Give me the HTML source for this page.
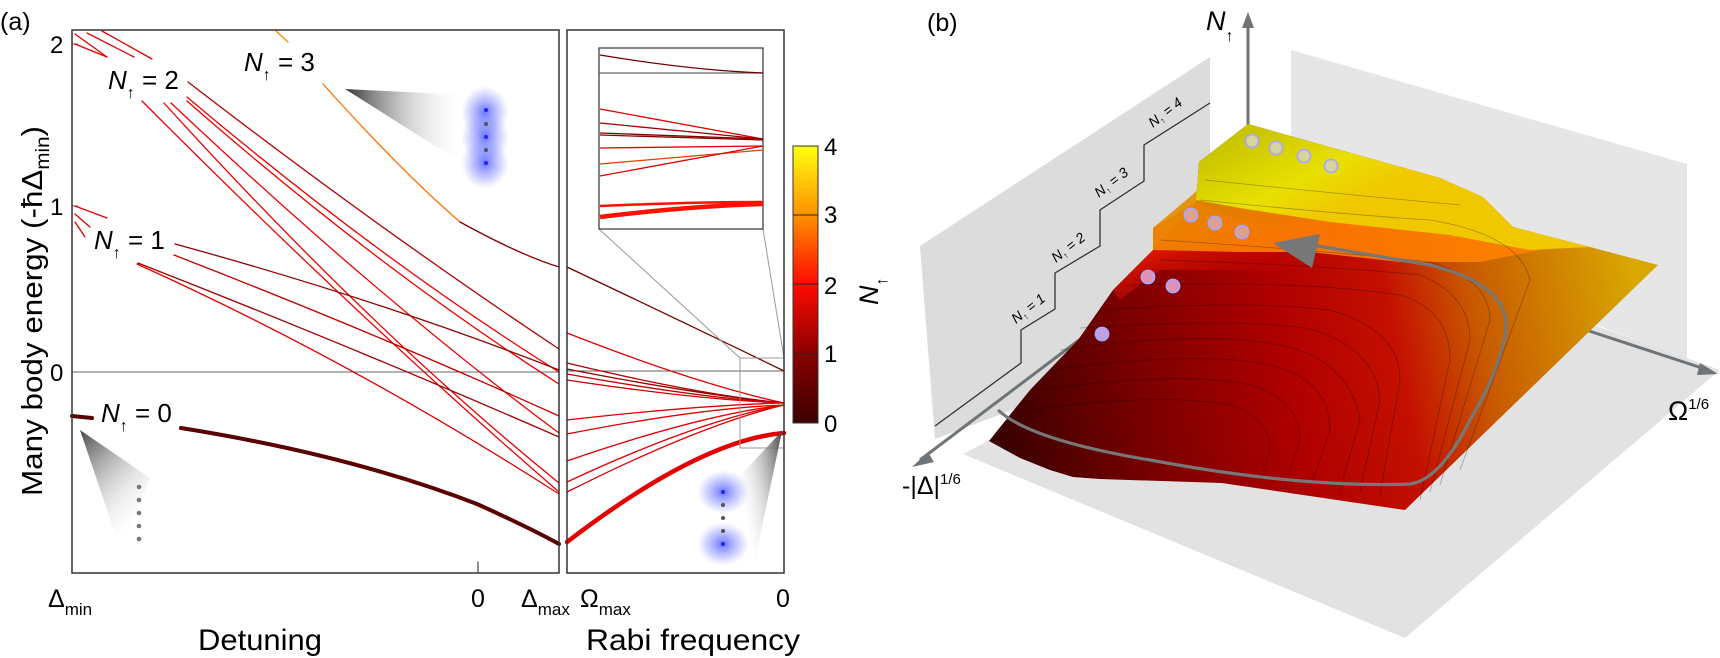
<!DOCTYPE html>
<html><head><meta charset="utf-8"><style>
html,body{margin:0;padding:0;background:#fff}
svg{display:block}
text{font-family:"Liberation Sans",sans-serif}
</style></head><body>
<svg width="1720" height="658" viewBox="0 0 1720 658" xmlns="http://www.w3.org/2000/svg">
<defs>
<linearGradient id="tri1" x1="0" y1="0" x2="1" y2="0"><stop offset="0" stop-color="#333"/><stop offset="1" stop-color="#fff" stop-opacity="0"/></linearGradient>
<linearGradient id="tri2" x1="0" y1="0" x2="0.6" y2="1"><stop offset="0" stop-color="#444"/><stop offset="1" stop-color="#fff" stop-opacity="0"/></linearGradient>
<linearGradient id="tri3" x1="1" y1="0" x2="0" y2="0.6"><stop offset="0" stop-color="#444"/><stop offset="1" stop-color="#fff" stop-opacity="0"/></linearGradient>
<radialGradient id="blob"><stop offset="0" stop-color="#3a46ff" stop-opacity="0.75"/><stop offset="0.6" stop-color="#6a74ff" stop-opacity="0.35"/><stop offset="1" stop-color="#8a90ff" stop-opacity="0"/></radialGradient>
<linearGradient id="cbar" x1="0" y1="1" x2="0" y2="0"><stop offset="0" stop-color="#3a0000"/><stop offset="0.25" stop-color="#8a0000"/><stop offset="0.5" stop-color="#ff0a00"/><stop offset="0.75" stop-color="#ff9000"/><stop offset="1" stop-color="#ffff10"/></linearGradient>
<linearGradient id="surf" gradientUnits="userSpaceOnUse" x1="1000" y1="430" x2="1640" y2="300"><stop offset="0" stop-color="#3a0000"/><stop offset="0.22" stop-color="#7a0000"/><stop offset="0.45" stop-color="#b00000"/><stop offset="0.62" stop-color="#c41000"/><stop offset="0.75" stop-color="#c85a00"/><stop offset="1" stop-color="#d8a800"/></linearGradient>
<linearGradient id="yel" gradientUnits="userSpaceOnUse" x1="1250" y1="130" x2="1300" y2="230"><stop offset="0" stop-color="#c8c400"/><stop offset="0.6" stop-color="#e8e000"/><stop offset="1" stop-color="#f0c800"/></linearGradient>
<linearGradient id="ora" gradientUnits="userSpaceOnUse" x1="1200" y1="195" x2="1220" y2="260"><stop offset="0" stop-color="#e09000"/><stop offset="1" stop-color="#ff8000"/></linearGradient>
<linearGradient id="redb" gradientUnits="userSpaceOnUse" x1="1130" y1="250" x2="1160" y2="330"><stop offset="0" stop-color="#ff2000"/><stop offset="1" stop-color="#c00000" stop-opacity="0"/></linearGradient>
</defs>

<text x="0" y="30" font-size="25">(a)</text>

<text transform="translate(42,311) rotate(-90)" font-size="29" text-anchor="middle" textLength="370" lengthAdjust="spacingAndGlyphs">Many body energy (-ħΔ<tspan font-size="19" dy="7">min</tspan><tspan dy="-7">)</tspan></text>
<text x="50" y="53" font-size="24">2</text>
<text x="50" y="215" font-size="24">1</text>
<text x="50" y="381" font-size="24">0</text>
<line x1="72" y1="44" x2="78" y2="44" stroke="#555"/>
<line x1="72" y1="206" x2="78" y2="206" stroke="#555"/>

<g fill="none" stroke-linecap="round">
<line x1="72" y1="372" x2="559" y2="372" stroke="#666" stroke-width="1"/>
<line x1="478" y1="562" x2="478" y2="573" stroke="#444" stroke-width="1.2"/>
<g stroke="#e00000" stroke-width="1.3">
<line x1="75" y1="34" x2="107" y2="57"/><line x1="75" y1="44" x2="107" y2="57"/>
<line x1="87" y1="33" x2="134" y2="57"/><line x1="102" y1="31" x2="152" y2="59"/>
<line x1="75" y1="206" x2="107" y2="218"/><line x1="75" y1="214" x2="90" y2="227"/><line x1="75" y1="222" x2="85" y2="237"/>
</g>
<g stroke="#ec0000" stroke-width="1.3">
<path d="M188,82 Q380,230 559,349" stroke="#b00000"/>
<path d="M187,97 Q380,260 559,372"/>
<path d="M187,101 Q380,270 559,384"/>
<path d="M171,103 Q380,300 559,433"/>
<path d="M164,103 Q370,330 559,483"/>
<path d="M142,101 Q360,320 559,492"/>
</g>
<g stroke="#c00000" stroke-width="1.3">
<path d="M175,244 Q380,300 559,370" stroke="#900000"/>
<path d="M174,255 Q380,335 559,416"/>
<path d="M138,263 Q360,350 559,437" stroke="#a00000"/>
<path d="M137,264 Q350,360 559,494" stroke="#e00000"/>
</g>
<line x1="276" y1="31" x2="288" y2="42" stroke="#ff8800" stroke-width="1.3"/>
<path d="M323,84 Q400,170 460,222" stroke="#ff7000" stroke-width="1.3"/>
<path d="M460,222 Q520,255 559,267" stroke="#800000" stroke-width="1.3"/>
<line x1="72" y1="416" x2="92" y2="418" stroke="#5a0000" stroke-width="4"/>
<path d="M181,428 Q350,455 477,504 Q530,528 559,544" stroke="#5a0000" stroke-width="4"/>
</g>
<rect x="72" y="30" width="487" height="543" fill="none" stroke="#333" stroke-width="1.5"/>

<polygon points="345,89 465,95 465,165" fill="url(#tri1)"/>
<ellipse cx="485" cy="112" rx="24" ry="26" fill="url(#blob)"/>
<ellipse cx="485" cy="137" rx="24" ry="26" fill="url(#blob)"/>
<ellipse cx="485" cy="163" rx="24" ry="26" fill="url(#blob)"/>
<g fill="#2222ff"><circle cx="486" cy="110" r="2"/><circle cx="486" cy="137" r="2"/><circle cx="486" cy="163" r="2"/></g>
<g fill="#555"><circle cx="486" cy="124" r="2"/><circle cx="486" cy="150" r="2"/></g>
<polygon points="80,430 150,478 120,548" fill="url(#tri2)"/>
<g fill="#777"><circle cx="139" cy="487" r="2.3"/><circle cx="139" cy="500" r="2.3"/><circle cx="139" cy="513" r="2.3"/><circle cx="139" cy="526" r="2.3"/><circle cx="139" cy="539" r="2.3"/></g>

<g font-size="26">
<text x="108" y="89"><tspan font-style="italic">N</tspan><tspan font-size="16" dy="9">↑</tspan><tspan dy="-9"> = 2</tspan></text>
<text x="244" y="71"><tspan font-style="italic">N</tspan><tspan font-size="16" dy="9">↑</tspan><tspan dy="-9"> = 3</tspan></text>
<text x="94" y="249"><tspan font-style="italic">N</tspan><tspan font-size="16" dy="9">↑</tspan><tspan dy="-9"> = 1</tspan></text>
<text x="101" y="422"><tspan font-style="italic">N</tspan><tspan font-size="16" dy="9">↑</tspan><tspan dy="-9"> = 0</tspan></text>
</g>

<g fill="none" stroke-linecap="round">
<line x1="567" y1="371" x2="784" y2="371" stroke="#666"/>
<g stroke-width="1.3">
<path d="M567,267 Q700,330 784,371" stroke="#700000"/>
<path d="M567,333 Q700,385 784,403" stroke="#e00000"/>
<path d="M567,363 Q700,395 784,403" stroke="#b00000"/>
<path d="M567,369 Q700,395 784,403" stroke="#900000"/>
<path d="M567,374 Q700,398 784,403" stroke="#c00000"/>
<path d="M567,380 Q700,400 784,403" stroke="#d00000"/>
<path d="M567,420 Q700,405 784,403" stroke="#e00000"/>
<path d="M567,434 Q700,408 784,405" stroke="#e00000"/>
<path d="M567,461 Q700,415 784,405" stroke="#e00000"/>
<path d="M567,482 Q700,420 784,405" stroke="#e00000"/>
<path d="M567,492 Q700,425 784,405" stroke="#e00000"/>
</g>
<path d="M567,542 Q700,440 784,433" stroke="#e40000" stroke-width="4.5"/>
<rect x="740" y="358" width="44" height="90" stroke="#999" stroke-width="1"/>
<line x1="599" y1="229" x2="740" y2="358" stroke="#999"/>
<line x1="763" y1="229" x2="784" y2="358" stroke="#999"/>
</g>
<polygon points="782,431 738,478 755,560" fill="url(#tri3)"/>
<ellipse cx="723" cy="492" rx="26" ry="22" fill="url(#blob)"/>
<ellipse cx="723" cy="544" rx="26" ry="22" fill="url(#blob)"/>
<g fill="#2222ff"><circle cx="723" cy="492" r="2"/><circle cx="723" cy="544" r="2"/></g>
<g fill="#555"><circle cx="723" cy="505" r="2"/><circle cx="723" cy="518" r="2"/><circle cx="723" cy="531" r="2"/></g>

<rect x="599" y="48" width="164" height="181" fill="#fff" stroke="#333" stroke-width="1.2"/>
<g fill="none" stroke-width="1.3">
<line x1="599" y1="73" x2="763" y2="73" stroke="#666"/>
<path d="M600,55 Q690,70 763,73" stroke="#700000"/>
<path d="M600,109 L763,139" stroke="#e00000"/>
<path d="M600,123 L763,139" stroke="#a00000"/>
<path d="M600,133 L763,139" stroke="#800000"/>
<path d="M600,135 L763,140" stroke="#900000"/>
<path d="M600,148 L763,146" stroke="#e00000"/>
<path d="M600,164 L763,150" stroke="#e04000"/>
<path d="M600,176 L763,146" stroke="#e00000"/>
<path d="M600,206 Q690,202 763,202" stroke="#ff1000" stroke-width="2.5"/>
<path d="M600,217 Q690,206 763,204" stroke="#ff1000" stroke-width="4.5"/>
</g>
<rect x="567" y="30" width="217" height="543" fill="none" stroke="#333" stroke-width="1.5"/>

<text x="48" y="607" font-size="25">Δ<tspan font-size="17" dy="8">min</tspan></text>
<text x="478" y="607" font-size="25" text-anchor="middle">0</text>
<text x="521" y="607" font-size="25">Δ<tspan font-size="17" dy="8">max</tspan></text>
<text x="580" y="607" font-size="25">Ω<tspan font-size="17" dy="8">max</tspan></text>
<text x="783" y="607" font-size="25" text-anchor="middle">0</text>
<text x="260" y="650" font-size="30" text-anchor="middle" textLength="124" lengthAdjust="spacingAndGlyphs">Detuning</text>
<text x="693" y="650" font-size="30" text-anchor="middle" textLength="214" lengthAdjust="spacingAndGlyphs">Rabi frequency</text>

<rect x="793" y="146" width="25" height="277" fill="url(#cbar)" stroke="#333" stroke-width="1"/>
<g stroke="#222"><line x1="793" y1="215" x2="818" y2="215"/><line x1="793" y1="284" x2="818" y2="284"/><line x1="793" y1="354" x2="818" y2="354"/></g>
<g font-size="24"><text x="824" y="155">4</text><text x="824" y="223">3</text><text x="824" y="294">2</text><text x="824" y="362">1</text><text x="824" y="432">0</text></g>
<text transform="translate(878,305) rotate(-90)" font-size="27"><tspan font-style="italic">N</tspan><tspan font-size="16" dy="9">↑</tspan></text>

<text x="927" y="31" font-size="25">(b)</text>
<polygon points="920,246 1210,57 1210,336 935,439" fill="#dcdcdc"/>
<polygon points="1291,50 1687,164 1687,359 1291,210" fill="#e6e6e6"/>
<polygon points="963,454 1405,638 1720,370 1566,315 1200,330" fill="#e2e2e2"/>
<polyline points="935,426 1021,363 1021,330 1055,309 1055,273 1100,246 1100,210 1144,181 1144,145 1210,103" fill="none" stroke="#333" stroke-width="1.3"/>
<g font-size="14" font-style="italic">
<text transform="translate(1016,324) rotate(-38)">N<tspan font-size="9" dy="3">↑</tspan><tspan dy="-3"> = 1</tspan></text>
<text transform="translate(1056,263) rotate(-38)">N<tspan font-size="9" dy="3">↑</tspan><tspan dy="-3"> = 2</tspan></text>
<text transform="translate(1099,198) rotate(-38)">N<tspan font-size="9" dy="3">↑</tspan><tspan dy="-3"> = 3</tspan></text>
<text transform="translate(1153,128) rotate(-38)">N<tspan font-size="9" dy="3">↑</tspan><tspan dy="-3"> = 4</tspan></text>
</g>
<g stroke="#6e7478" stroke-width="3" fill="#6e7478">
<line x1="1248" y1="126" x2="1248" y2="25"/><polygon points="1242,28 1254,28 1248,12" stroke="none"/>
<line x1="1095" y1="328" x2="920" y2="460"/><polygon points="912,467 928,452 934,462" stroke="none"/>
<line x1="1580" y1="328" x2="1705" y2="369"/><polygon points="1718,374 1700,363 1697,375" stroke="none"/>
</g>
<polygon points="989,441 1030,390 1078,340 1113,290 1153,250 1196,202 1199,162 1248,124 1440,178 1483,197 1513,227 1590,247 1658,265 1405,510 1222,483 1100,479 1073,477 1050,470 1020,458" fill="url(#surf)"/>
<polygon points="1113,290 1153,250 1153,228 1196,202 1240,220 1330,240 1420,250 1470,240 1490,270 1430,290 1330,275 1240,270 1160,270 1120,300" fill="url(#redb)" opacity="0.85"/>
<polygon points="1153,250 1153,228 1198,190 1260,205 1330,220 1440,232 1513,227 1560,246 1480,262 1400,262 1310,252 1240,252" fill="url(#ora)" opacity="0.9"/>
<polygon points="1196,200 1199,162 1248,124 1440,178 1483,197 1513,227 1590,247 1530,250 1450,235 1330,222 1240,208" fill="url(#yel)"/>
<g fill="none" stroke="#000" stroke-opacity="0.3" stroke-width="0.8">
<path d="M1060,350 Q1200,330 1280,345 Q1350,360 1360,420 L1340,490"/>
<path d="M1050,370 Q1200,350 1270,365 Q1330,380 1330,430 L1310,488"/>
<path d="M1040,390 Q1180,370 1250,385 Q1300,400 1300,440 L1285,486"/>
<path d="M1030,410 Q1160,392 1230,405 Q1270,418 1270,450 L1260,484"/>
<path d="M1100,310 Q1250,300 1330,310 Q1400,330 1400,380 L1380,495"/>
<path d="M1080,328 Q1230,318 1305,328 Q1375,345 1380,400 L1360,492"/>
<path d="M1130,285 Q1300,280 1400,295 Q1450,310 1450,360 L1420,500"/>
<path d="M1200,200 Q1350,215 1430,220 Q1520,235 1530,280 L1460,470"/>
<path d="M1160,240 Q1320,250 1430,262 Q1490,280 1490,320 L1440,485"/>
<path d="M1205,180 Q1350,195 1460,205"/>
<path d="M1160,260 Q1320,265 1420,275 Q1470,295 1470,340 L1430,492"/>
</g>
<path d="M998,410 Q1030,440 1150,460 Q1300,488 1410,484 Q1440,480 1470,420 Q1500,370 1506,330 Q1510,285 1430,265 L1300,243" fill="none" stroke="#777" stroke-width="3.2"/>
<polygon points="1273,243 1320,234 1312,268" fill="#777"/>
<g stroke="#a8a8ff" stroke-width="1.8">
<circle cx="1252" cy="141" r="6.5" fill="#d8d49a"/><circle cx="1276" cy="148" r="6.5" fill="#d8d49a"/><circle cx="1304" cy="156" r="6.5" fill="#d8d49a"/><circle cx="1331" cy="166" r="6.5" fill="#d8d49a"/>
<circle cx="1191" cy="215" r="6.5" fill="#e0a090"/><circle cx="1215" cy="223" r="6.5" fill="#e0a090"/><circle cx="1242" cy="232" r="6.5" fill="#e0a090"/>
<circle cx="1148" cy="277" r="6.5" fill="#e090b0"/><circle cx="1173" cy="286" r="6.5" fill="#e090b0"/>
<circle cx="1102" cy="334" r="6.5" fill="#c0a0e0"/>
</g>
<text x="1206" y="30" font-size="27"><tspan font-style="italic">N</tspan><tspan font-size="16" dy="11">↑</tspan></text>
<text x="1668" y="420" font-size="27">Ω<tspan font-size="15" dy="-11">1/6</tspan></text>
<text x="902" y="494" font-size="25">-|Δ|<tspan font-size="15" dy="-10">1/6</tspan></text>
</svg>
</body></html>
